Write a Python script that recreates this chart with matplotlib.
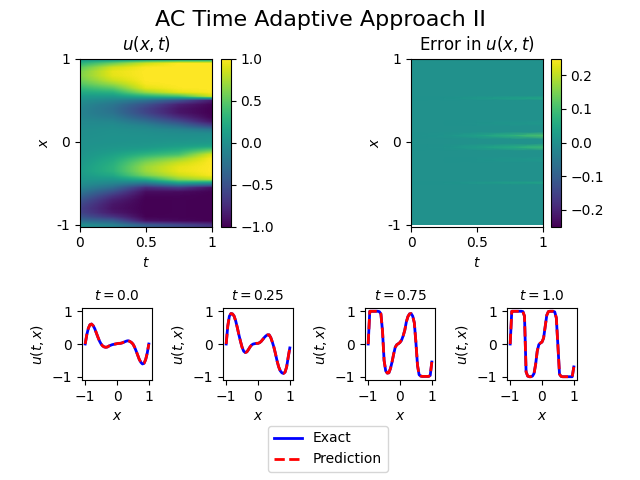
# Allen-Cahn time adaptive figure: solution, error and time slices
import matplotlib
matplotlib.use('Agg')
import matplotlib.pyplot as plt
import numpy as np

# sample grid in x (41 points, step 0.05) and snapshot times
x_vals = np.linspace(-1, 1, 41)
t_vals = [0.0, 0.25, 0.5, 0.75, 1.0]

# u(x, t) profiles, one list per snapshot time
u_t0 = [0.00, 0.28, 0.48, 0.59, 0.61, 0.56, 0.47, 0.34, 0.21, 0.09,
        0.00, -0.06, -0.09, -0.10, -0.09, -0.06, -0.04, -0.02, -0.01, 0.00,
        0.01,
        0.02, 0.02, 0.03, 0.05, 0.07, 0.09, 0.10, 0.08, 0.05, 0.00,
        -0.09, -0.21, -0.34, -0.47, -0.56, -0.61, -0.59, -0.48, -0.28, 0.00]
u_t25 = [0.00, 0.55, 0.85, 0.93, 0.92, 0.85, 0.70, 0.50, 0.28, 0.08,
         -0.10, -0.22, -0.26, -0.24, -0.17, -0.09, -0.03, 0.00, 0.01, 0.02,
         0.02,
         0.04, 0.08, 0.14, 0.20, 0.25, 0.28, 0.28, 0.20, 0.06, -0.10,
         -0.30, -0.52, -0.70, -0.82, -0.88, -0.90, -0.86, -0.70, -0.40, -0.12]
u_t50 = [0.00, 0.85, 0.99, 1.00, 1.00, 1.00, 0.98, 0.92, 0.70, 0.25,
         -0.25, -0.50, -0.60, -0.58, -0.45, -0.28, -0.12, -0.03, 0.00, 0.02,
         0.03,
         0.06, 0.15, 0.30, 0.48, 0.62, 0.70, 0.70, 0.60, 0.25, -0.25,
         -0.75, -0.93, -0.98, -1.00, -1.00, -1.00, -1.00, -0.99, -0.90, -0.40]
u_t75 = [0.00, 1.00, 1.00, 1.00, 1.00, 1.00, 1.00, 0.99, 0.92, 0.40,
         -0.50, -0.82, -0.89, -0.88, -0.75, -0.55, -0.31, -0.10, -0.02, 0.01,
         0.05,
         0.12, 0.25, 0.42, 0.68, 0.84, 0.92, 0.93, 0.85, 0.65, 0.05,
         -0.65, -0.94, -0.98, -0.99, -0.99, -0.99, -0.99, -0.99, -0.96, -0.55]
u_t100 = [0.00, 1.00, 1.00, 1.00, 1.00, 1.00, 1.00, 1.00, 0.99, 0.85,
          -0.85, -0.98, -1.00, -1.00, -0.98, -0.90, -0.62, -0.22, -0.02, 0.03,
          0.06,
          0.18, 0.53, 0.88, 0.99, 1.00, 1.00, 1.00, 0.98, 0.80, -0.05,
          -0.92, -0.99, -1.00, -1.00, -1.00, -1.00, -1.00, -1.00, -1.00, -0.70]

# error field: thin stripes that grow with time, zero elsewhere
err_x = [-1.0, -0.55, -0.52, -0.49, -0.26, -0.22, -0.18, -0.115, -0.07, -0.025,
         0.025, 0.07, 0.115, 0.18, 0.22, 0.26, 0.475, 0.50, 0.525, 1.0]
err_vals = [
    [0, 0, 0, 0, 0],
    [0, 0, 0, 0, 0],
    [0, 0.003, 0.018, 0.032, 0.045],
    [0, 0, 0, 0, 0],
    [0, 0, 0, 0, 0],
    [0, 0, 0.006, 0.012, 0.016],
    [0, 0, 0, 0, 0],
    [0, 0, 0, 0, 0],
    [0, 0.008, 0.035, 0.070, 0.110],
    [0, 0, 0, 0, 0],
    [0, 0, 0, 0, 0],
    [0, 0.006, 0.028, 0.058, 0.090],
    [0, 0, 0, 0, 0],
    [0, 0, 0, 0, 0],
    [0, 0, 0.006, 0.012, 0.016],
    [0, 0, 0, 0, 0],
    [0, 0, 0, 0, 0],
    [0, 0.003, 0.016, 0.030, 0.040],
    [0, 0, 0, 0, 0],
    [0, 0, 0, 0, 0],
]

slice_times = [0.0, 0.25, 0.75, 1.0]
slice_profiles = [u_t0, u_t25, u_t75, u_t100]

U = np.array([u_t0, u_t25, u_t50, u_t75, u_t100]).T
E = np.array(err_vals)

fig = plt.figure(figsize=(6.4, 4.8), dpi=100)
fig.suptitle('AC Time Adaptive Approach II', fontsize=16, y=0.98)


def style_map(ax, title):
    ax.set_xlim(0, 1)
    ax.set_ylim(1.024, -1)
    ax.set_xticks([0, 0.5, 1])
    ax.set_xticklabels(['0', '0.5', '1'])
    ax.set_yticks([-1, 0, 1])
    ax.set_yticklabels(['1', '0', '-1'])
    ax.set_xlabel('$t$')
    ax.set_ylabel('$x$')
    ax.set_title(title)


# top row: solution and error
ax1 = fig.add_axes([80/640, 1-226.5/480, 132/640, 168/480])
cax1 = fig.add_axes([221/640, 1-226.5/480, 9.5/640, 168/480])
dt = 0.125
dx = 0.025
im = ax1.imshow(U, cmap='viridis', vmin=-1, vmax=1, aspect='auto',
                interpolation='bilinear', origin='upper',
                extent=[-dt, 1 + dt, 1 + dx, -1 - dx])
style_map(ax1, '$u(x,t)$')
cb1 = fig.colorbar(im, cax=cax1)
cb1.set_ticks([-1, -0.5, 0, 0.5, 1])

ax2 = fig.add_axes([411/640, 1-226.5/480, 132/640, 168/480])
cax2 = fig.add_axes([551/640, 1-226.5/480, 9.5/640, 168/480])
mesh = ax2.pcolormesh(t_vals, err_x, E, shading='gouraud', cmap='viridis',
                      vmin=-0.25, vmax=0.25)
style_map(ax2, 'Error in $u(x,t)$')
cb2 = fig.colorbar(mesh, cax=cax2)
cb2.set_ticks([-0.2, -0.1, 0, 0.1, 0.2])

# bottom row: time slices, exact vs prediction
lefts = [82, 223, 365, 507]
for left, ts, prof in zip(lefts, slice_times, slice_profiles):
    ax = fig.add_axes([left/640, 1-380/480, 70/640, 72/480])
    l1, = ax.plot(x_vals, prof, 'b-', linewidth=2, label='Exact')
    l2, = ax.plot(x_vals, prof, 'r--', linewidth=2, label='Prediction')
    ax.set_ylim(-1.1, 1.1)
    ax.set_xticks([-1, 0, 1])
    ax.set_yticks([-1, 0, 1])
    ax.set_xlabel('$x$')
    ax.set_ylabel('$u(t,x)$')
    ax.set_title(f'$t = {ts}$', fontsize=10)

fig.legend(handles=[l1, l2], loc='upper center',
           bbox_to_anchor=(328/640, 1-419/480))

plt.savefig('out.png', dpi=100)
